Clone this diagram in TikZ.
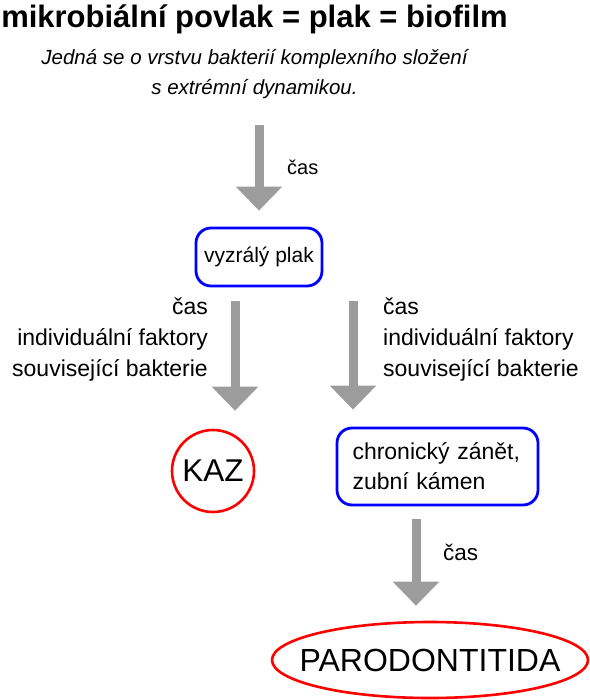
\documentclass[tikz,border=0pt]{standalone}
\usepackage{fontspec}
\setmainfont{Liberation Sans}
\usetikzlibrary{calc}
\usetikzlibrary{shapes}
\usetikzlibrary{arrows.meta}
\definecolor{arrowgray}{HTML}{9C9C9C}
\tikzset{
  bigarrow/.style={draw=arrowgray, line width=9pt, -{Triangle[width=45pt,length=24pt]}},
  bluebox/.style={draw=blue, line width=2.8pt, rounded corners=15pt, inner sep=0pt},
  redshape/.style={draw=red, line width=2.6pt, inner sep=0pt},
  labl/.style={font=\fontsize{23}{31}\selectfont, inner sep=0pt}
}

\begin{document}
\begin{tikzpicture}[x=1pt, y=-1pt]
\useasboundingbox (0,0) rectangle (589,700);
% heading
\node[font=\fontsize{31}{36}\selectfont\bfseries, inner sep=0pt, anchor=base] (title) at (254.5,28) {mikrobiální povlak = plak = biofilm};
\node[font=\fontsize{20.5}{30}\selectfont\itshape, align=center, inner sep=0pt] (sub) at (254.5,74) {Jedná se o vrstvu bakterií komplexního složení\\s extrémní dynamikou.};
% nodes
\node[bluebox, minimum width=126pt, minimum height=58pt, font=\fontsize{21}{25}\selectfont] (plak) at (259,257) {vyzrálý plak};
\node[redshape, circle, minimum size=82pt, font=\fontsize{31.5}{36}\selectfont] (kaz) at (213,471) {KAZ};
\node[bluebox, minimum width=201pt, minimum height=77pt, text width=170pt, align=left, font=\fontsize{23}{30}\selectfont] (chron) at (437.5,466.5) {chronický zánět,\\zubní kámen};
\node[redshape, ellipse, minimum width=316pt, minimum height=76pt] (paro) at (430,660) {};
\node[font=\fontsize{32}{36}\selectfont, inner sep=0pt] (parotext) at (paro.center) {PARODONTITIDA};
% arrows
\draw[bigarrow] ($(sub.south -| plak.north)+(0,26)$) -- ($(plak.north)+(0,-16)$);
\draw[bigarrow] ($(plak.south)+(-24,14)$) -- ($(kaz.north)+(22,-18)$);
\draw[bigarrow] ($(plak.south)+(94,14)$) -- ($(chron.north)+(-84.5,-17)$);
\draw[bigarrow] ($(chron.south)+(-21.5,13)$) -- ($(paro.north)+(-14,-15)$);
% arrow labels
\node[labl, font=\fontsize{20}{24}\selectfont, anchor=base west] (cas1) at (287,175) {čas};
\node[labl, align=right, anchor=east] (leftlab) at (208,340) {čas\\individuální faktory\\související bakterie};
\node[labl, align=left, anchor=west] (rightlab) at (383,340) {čas\\individuální faktory\\související bakterie};
\node[labl, font=\fontsize{22.5}{26}\selectfont, anchor=base west] (cas2) at (443,560) {čas};
\end{tikzpicture}
\end{document}
